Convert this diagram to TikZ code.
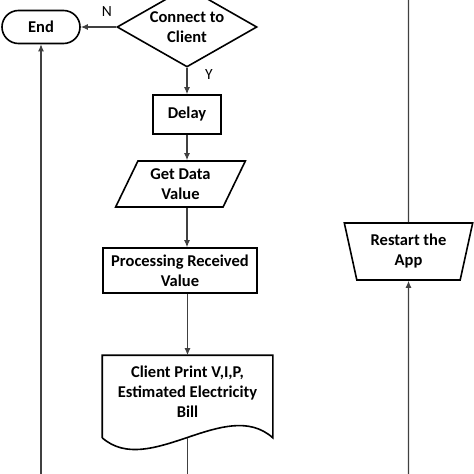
\documentclass[tikz,border=0pt]{standalone}
\usepackage{fontspec}
\setmainfont{Carlito}
\usetikzlibrary{arrows.meta, shapes.geometric}

\begin{document}
\begin{tikzpicture}[x=1pt, y=-1pt, >={Latex[length=7pt, width=6pt]},
  box/.style  = {draw, line width=1.6pt, align=center, inner sep=0pt,
                 font=\fontsize{16.5}{20}\selectfont\bfseries},
  lbl/.style  = {font=\fontsize{15.5}{17}\selectfont},
  wire/.style = {line width=1.1pt, draw=black!75},
  link/.style = {wire, ->}
]
  \useasboundingbox (0,0) rectangle (474,474);

  \node[box, rounded corners=16.5pt, minimum width=78pt, minimum height=33pt] (End) at (41,27) {End};
  \node[box, diamond, aspect=1.75, minimum width=140pt, minimum height=80pt] (Conn) at (187,27) {Connect to\\Client};
  \node[box, minimum width=68pt, minimum height=39pt] (Delay) at (187,114.5) {Delay};
  \node[box, trapezium, trapezium left angle=63, trapezium right angle=117,
        trapezium stretches=true, minimum width=131pt, minimum height=46pt] (GetData) at (180.5,184) {Get Data\\Value};
  \node[box, minimum width=154pt, minimum height=45pt] (Proc) at (180,270.5) {Processing Received\\Value};
  \node[box, draw=none, minimum width=169pt, minimum height=72pt] (Print) at (187.5,392) {Client Print V,I,P,\\Estimated Electricity\\Bill};
  \node[box, trapezium, shape border rotate=180, trapezium angle=75,
        trapezium stretches=true, minimum width=129pt, minimum height=57pt] (Restart) at (408.5,251.5) {Restart the\\App};

  %% document outline with wavy bottom
  \draw[line width=1.6pt] ([yshift=-9pt]Print.south west) -- (Print.north west) -- (Print.north east)
      -- ([yshift=-9pt]Print.south east) .. controls +(-47,-42) and +(47,41) .. ([yshift=-9pt]Print.south west);

  %% free ends at the picture border
  \coordinate (LeftEnd) at (41,474);
  \coordinate (PrintEnd) at (187.5,474);
  \coordinate (RTop) at (408.5,0);
  \coordinate (RBot) at (408.5,474);

  %% main chain
  \draw[link] (Conn.west) -- (End.east);
  \draw[link] (Conn.south) -- (Delay.north);
  \draw[link] (Delay.south) -- (GetData.north -| Delay.south);
  \draw[link] (GetData.south -| Delay.south) -- (Proc.north -| Delay.south);
  \draw[link] (Proc.south -| Print.north) -- (Print.north);
  \draw[wire] ([yshift=-9pt]Print.south) -- (PrintEnd);

  %% side lines
  \draw[link] (LeftEnd) -- (End.south);
  \draw[wire] (Restart.north) -- (RTop);
  \draw[link] (RBot) -- (Restart.south);

  %% branch labels
  \node[lbl] (N) at (107,12) {N};
  \node[lbl] (Y) at (209,75) {Y};
\end{tikzpicture}
\end{document}
